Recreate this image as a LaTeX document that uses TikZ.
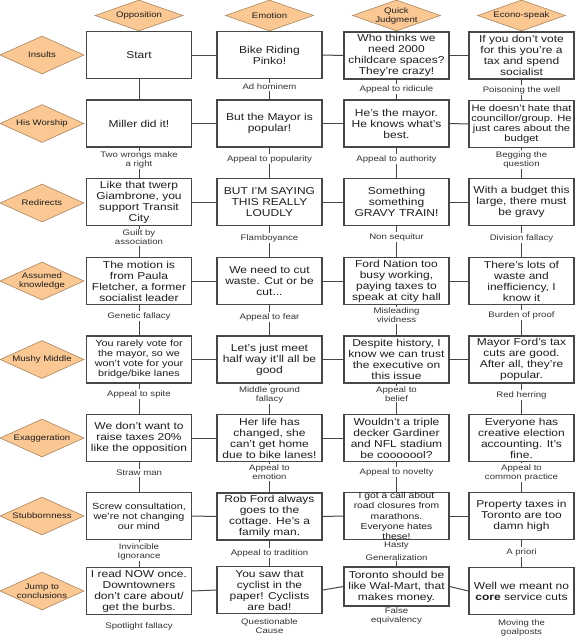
\documentclass[tikz,border=0pt]{standalone}
\usepackage{fontspec}
\setmainfont{Liberation Sans}[FakeStretch=1.2]
\usetikzlibrary{shapes.geometric}
\definecolor{catfill}{HTML}{FBC792}
\definecolor{catedge}{HTML}{A88660}
\definecolor{bline}{HTML}{474747}
\definecolor{txt}{HTML}{1E1E1E}
\definecolor{labtxt}{HTML}{333333}
\tikzset{
  fbox/.style={draw=bline, line width=1.1pt, fill=white, minimum width=105pt,
    minimum height=47pt, inner sep=1pt, align=center, text=txt,
    font=\fontsize{10}{11}\selectfont},
  smallbox/.style={font=\fontsize{9.3}{10}\selectfont},
  boxtxt/.style={align=center, text=txt, inner sep=0pt},
  leftcat/.style={diamond, draw=catedge, fill=catfill, line width=0.6pt,
    minimum width=84pt, minimum height=38pt, inner sep=0pt},
  topcat/.style={diamond, draw=catedge, fill=catfill, line width=0.6pt,
    minimum width=88pt, minimum height=31pt, inner sep=0pt},
  cattext/.style={font=\fontsize{8}{9}\selectfont, text=txt, align=center, inner sep=0pt},
  conn/.style={draw=bline, line width=1pt},
  lab/.style={fill=white, inner sep=0.8pt, font=\fontsize{8}{9}\selectfont,
    text=labtxt, align=center}
}
\begin{document}
\begin{tikzpicture}[x=1pt,y=-1pt]
\useasboundingbox (0,0) rectangle (577,640);

% top category diamonds
\node[topcat, label={[cattext]center:Opposition}] (t1) at (139,15.5) {};
\node[topcat, label={[cattext]center:Emotion}] (t2) at (269.5,15.5) {};
\node[topcat, label={[cattext]center:{Quick\\Judgment}}] (t3) at (396.5,15.5) {};
\node[topcat, label={[cattext]center:Econo-speak}] (t4) at (521.5,15.5) {};

% left category diamonds
\node[leftcat, label={[cattext]center:Insults}] (s1) at (42,55) {};
\node[leftcat, label={[cattext]center:His Worship}] (s2) at (42,123.5) {};
\node[leftcat, label={[cattext]center:Redirects}] (s3) at (42,203) {};
\node[leftcat, label={[cattext]center:{Assumed\\knowledge}}] (s4) at (42,281) {};
\node[leftcat, label={[cattext]center:Mushy Middle}] (s5) at (42,359.5) {};
\node[leftcat, label={[cattext]center:Exaggeration}] (s6) at (42,438) {};
\node[leftcat, label={[cattext]center:Stubbornness}] (s7) at (42,516) {};
\node[leftcat, label={[cattext]center:{Jump to\\conclusions}}] (s8) at (42,591) {};

% row 1
\node[fbox] (r1c1) at (139,55) {Start};
\node[fbox] (r1c2) at (269.5,55) {Bike Riding\\Pinko!};
\node[fbox] (r1c3) at (396.5,55.5) {Who thinks we\\need 2000\\childcare spaces?\\They're crazy!};
\node[fbox] (r1c4) at (521.5,55.5) {If you don't vote\\for this you're a\\tax and spend\\socialist};
% row 2
\node[fbox] (r2c1) at (139,123.5) {Miller did it!};
\node[fbox] (r2c2) at (269.5,123.5) {But the Mayor is\\popular!};
\node[fbox] (r2c3) at (396.5,123.5) {He's the mayor.\\He knows what's\\best.};
\node[fbox, smallbox] (r2c4) at (521.5,124) {He doesn't hate that\\councillor/group. He\\just cares about the\\budget};
% row 3
\node[fbox] (r3c1) at (139,202) {Like that twerp\\Giambrone, you\\support Transit\\City};
\node[fbox] (r3c2) at (269.5,202) {BUT I'M SAYING\\THIS REALLY\\LOUDLY};
\node[fbox] (r3c3) at (396.5,202) {Something\\something\\GRAVY TRAIN!};
\node[fbox] (r3c4) at (521.5,202) {With a budget this\\large, there must\\be gravy};
% row 4
\node[fbox] (r4c1) at (139,281) {The motion is\\from Paula\\Fletcher, a former\\socialist leader};
\node[fbox] (r4c2) at (269.5,281) {We need to cut\\waste. Cut or be\\cut...};
\node[fbox] (r4c3) at (396.5,281) {Ford Nation too\\busy working,\\paying taxes to\\speak at city hall};
\node[fbox] (r4c4) at (521.5,281) {There's lots of\\waste and\\inefficiency, I\\know it};
% row 5
\node[fbox, font=\fontsize{9}{10}\selectfont] (r5c1) at (139,359.5) {You rarely vote for\\the mayor, so we\\won't vote for your\\bridge/bike lanes};
\node[fbox] (r5c2) at (269.5,359.5) {Let's just meet\\half way it'll all be\\good};
\node[fbox] (r5c3) at (396.5,359.5) {Despite history, I\\know we can trust\\the executive on\\this issue};
\node[fbox] (r5c4) at (521.5,359.5) {Mayor Ford's tax\\cuts are good.\\After all, they're\\popular.};
% row 6
\node[fbox] (r6c1) at (139,438) {We don't want to\\raise taxes 20\%\\like the opposition};
\node[fbox] (r6c2) at (269.5,438) {Her life has\\changed, she\\can't get home\\due to bike lanes!};
\node[fbox] (r6c3) at (396.5,438) {Wouldn't a triple\\decker Gardiner\\and NFL stadium\\be cooooool?};
\node[fbox] (r6c4) at (521.5,438) {Everyone has\\creative election\\accounting. It's\\fine.};
% row 7
\node[fbox, font=\fontsize{9}{10}\selectfont] (r7c1) at (139,516) {Screw consultation,\\we're not changing\\our mind};
\node[fbox] (r7c2) at (269.5,516.5) {Rob Ford always\\goes to the\\cottage. He's a\\family man.};
\node[fbox, label={[boxtxt, font=\fontsize{8.6}{10.3}\selectfont]center:{I got a call about\\road closures from\\marathons.\\Everyone hates\\these!}}] (r7c3) at (396.5,516) {};
\node[fbox] (r7c4) at (521.5,516) {Property taxes in\\Toronto are too\\damn high};
% row 8
\node[fbox] (r8c1) at (139,591) {I read NOW once.\\Downtowners\\don't care about/\\get the burbs.};
\node[fbox] (r8c2) at (269.5,590) {You saw that\\cyclist in the\\paper! Cyclists\\are bad!};
\node[fbox, minimum height=39pt] (r8c3) at (396.5,586.5) {Toronto should be\\like Wal-Mart, that\\makes money.};
\node[fbox] (r8c4) at (521.5,591) {Well we meant no\\\textbf{core} service cuts};

% horizontal connectors
\foreach \r in {1,...,8}{
  \draw[conn] (r\r c1.east) -- (r\r c2.west);
  \draw[conn] (r\r c2.east) -- (r\r c3.west);
}
\foreach \r in {1,2,3,4,5,7,8}{
  \draw[conn] (r\r c3.east) -- (r\r c4.west);
}
% vertical connectors
\foreach \c in {1,2,3,4}{
  \foreach \r [evaluate=\r as \n using int(\r+1)] in {1,...,7}{
    \draw[conn] (r\r c\c.south) -- (r\n c\c.north);
  }
}

% fallacy labels, column 1
\node[lab] (f1b) at (139,160) {Two wrongs make\\a right};
\node[lab] (f1c) at (139,237.5) {Guilt by\\association};
\node[lab] (f1d) at (139,316) {Genetic fallacy};
\node[lab] (f1e) at (139,394) {Appeal to spite};
\node[lab] (f1f) at (139,473) {Straw man};
\node[lab] (f1g) at (139,551.5) {Invincible\\Ignorance};
\node[lab] (f1h) at (139,626) {Spotlight fallacy};
% column 2
\node[lab] (f2a) at (269.5,87) {Ad hominem};
\node[lab] (f2b) at (269.5,159) {Appeal to popularity};
\node[lab] (f2c) at (269.5,238) {Flamboyance};
\node[lab] (f2d) at (269.5,317) {Appeal to fear};
\node[lab] (f2e) at (269.5,394.5) {Middle ground\\fallacy};
\node[lab] (f2f) at (269.5,472.5) {Appeal to\\emotion};
\node[lab] (f2g) at (269.5,553) {Appeal to tradition};
\node[lab] (f2h) at (269.5,626) {Questionable\\Cause};
% column 3
\node[lab] (f3a) at (396.5,89) {Appeal to ridicule};
\node[lab] (f3b) at (396.5,159) {Appeal to authority};
\node[lab] (f3c) at (396.5,237) {Non sequitur};
\node[lab] (f3d) at (396.5,315.5) {Misleading\\vividness};
\node[lab] (f3e) at (396.5,394) {Appeal to\\belief};
\node[lab] (f3f) at (396.5,472) {Appeal to novelty};
\node[lab, font=\fontsize{8}{13}\selectfont] (f3g) at (396.5,551) {Hasty\\Generalization};
\node[lab] (f3h) at (396.5,616) {False\\equivalency};
% column 4
\node[lab] (f4a) at (521.5,90) {Poisoning the well};
\node[lab] (f4b) at (521.5,159.5) {Begging the\\question};
\node[lab] (f4c) at (521.5,238) {Division fallacy};
\node[lab] (f4d) at (521.5,315) {Burden of proof};
\node[lab] (f4e) at (521.5,395) {Red herring};
\node[lab] (f4f) at (521.5,472.5) {Appeal to\\common practice};
\node[lab] (f4g) at (521.5,552) {A priori};
\node[lab] (f4h) at (521.5,627.5) {Moving the\\goalposts};
\end{tikzpicture}
\end{document}
